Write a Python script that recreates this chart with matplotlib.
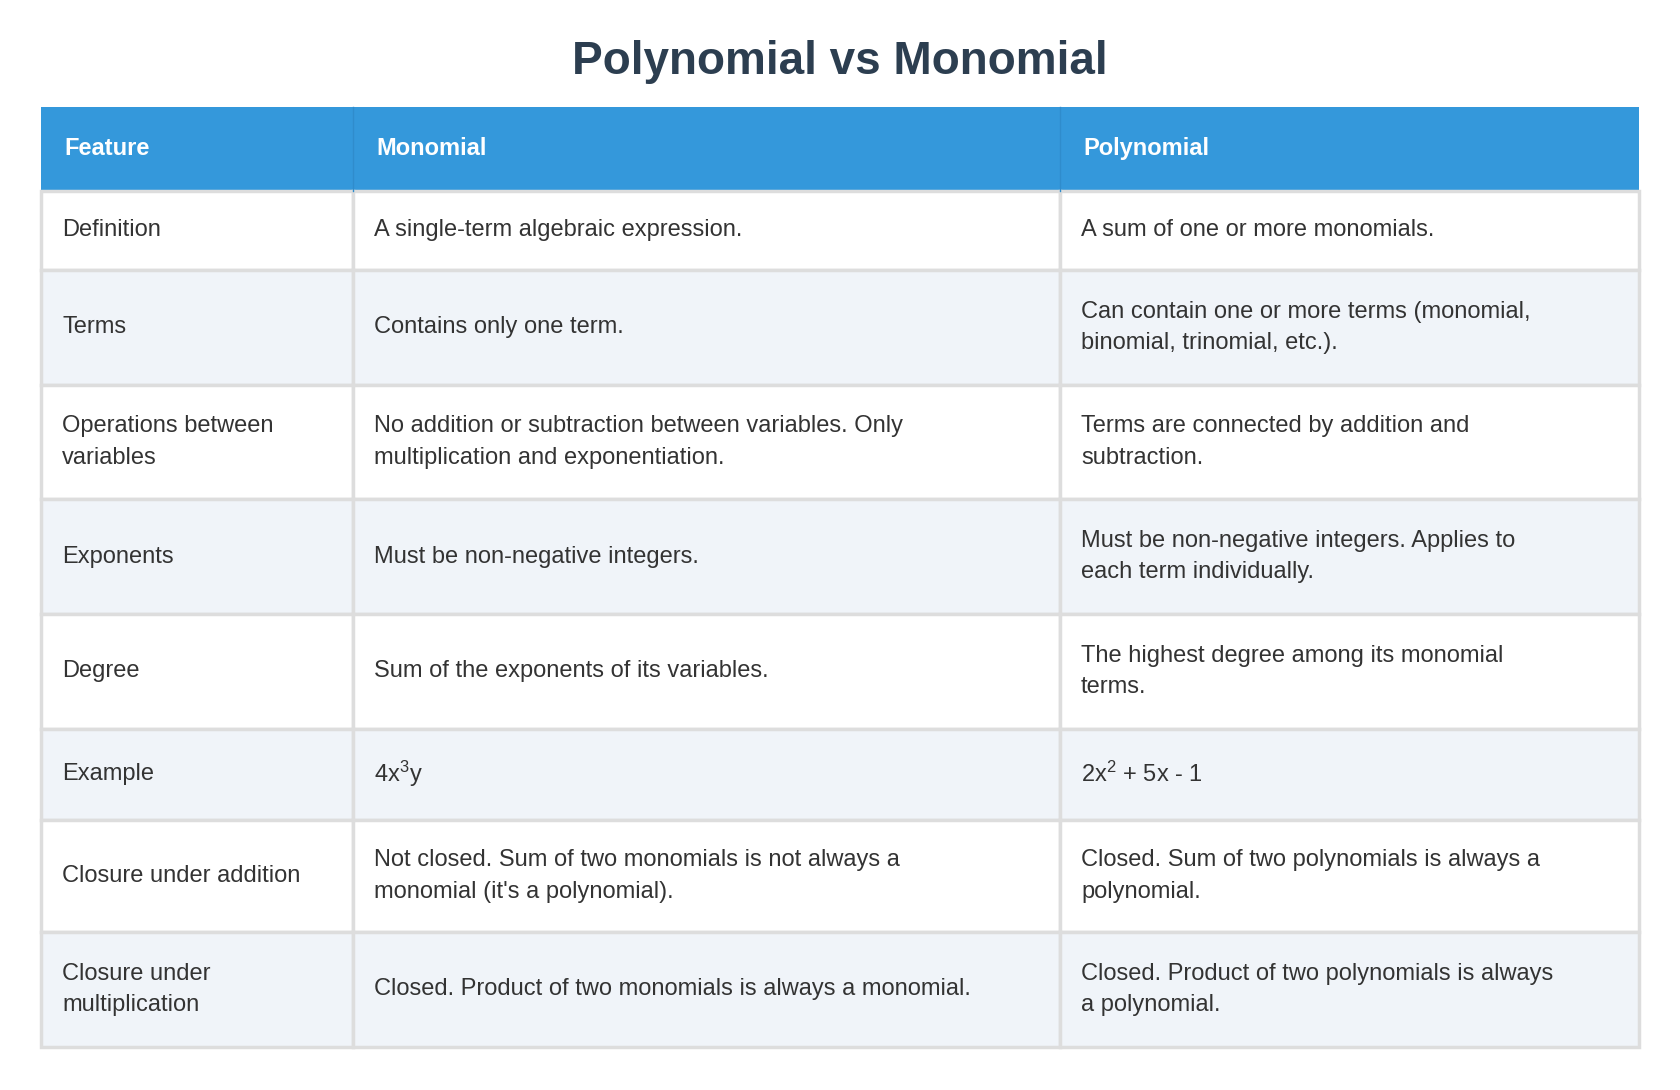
import matplotlib.pyplot as plt
from matplotlib.patches import Rectangle

plt.rcParams['font.family'] = ['Liberation Sans', 'DejaVu Sans']
plt.rcParams['mathtext.default'] = 'regular'

title = "Polynomial vs Monomial"
headers = ["Feature", "Monomial", "Polynomial"]
features = ["Definition", "Terms", "Operations between\nvariables", "Exponents",
            "Degree", "Example", "Closure under addition", "Closure under\nmultiplication"]
monomial = ["A single-term algebraic expression.",
            "Contains only one term.",
            "No addition or subtraction between variables. Only\nmultiplication and exponentiation.",
            "Must be non-negative integers.",
            "Sum of the exponents of its variables.",
            "4x$^{3}$y",
            "Not closed. Sum of two monomials is not always a\nmonomial (it's a polynomial).",
            "Closed. Product of two monomials is always a monomial."]
polynomial = ["A sum of one or more monomials.",
              "Can contain one or more terms (monomial,\nbinomial, trinomial, etc.).",
              "Terms are connected by addition and\nsubtraction.",
              "Must be non-negative integers. Applies to\neach term individually.",
              "The highest degree among its monomial\nterms.",
              "2x$^{2}$ + 5x - 1",
              "Closed. Sum of two polynomials is always a\npolynomial.",
              "Closed. Product of two polynomials is always\na polynomial."]

# layout in pixels of the 1680x1090 image
W, H = 1680, 1090
s = 1680 / 1568
col_x = [38 * s, 329 * s, 989 * s, 1530 * s]
row_y = [v * s for v in [100, 178, 252, 359, 466, 573, 680, 765, 870, 977]]

fig = plt.figure(figsize=(16.8, 10.9), dpi=100)
ax = fig.add_axes([0, 0, 1, 1])
ax.set_xlim(0, W)
ax.set_ylim(H, 0)
ax.axis('off')

ax.text(W / 2, 58 * s, title, ha='center', va='center', fontsize=33,
        fontweight='bold', color='#2c3e50')

# header
ax.add_patch(Rectangle((col_x[0], row_y[0]), col_x[3] - col_x[0], row_y[1] - row_y[0],
                       facecolor='#3498db', edgecolor='none'))
for j, h in enumerate(headers):
    ax.text(col_x[j] + 22 * s, (row_y[0] + row_y[1]) / 2, h, ha='left', va='center',
            fontsize=17, fontweight='bold', color='white')
for x in col_x[1:3]:
    ax.plot([x, x], [row_y[0], row_y[1]], color='#2f8ccc', lw=1)

for i, row in enumerate(zip(features, monomial, polynomial)):
    y0, y1 = row_y[i + 1], row_y[i + 2]
    fc = 'white' if i % 2 == 0 else '#f0f4f9'
    for j in range(3):
        ax.add_patch(Rectangle((col_x[j], y0), col_x[j + 1] - col_x[j], y1 - y0,
                               facecolor=fc, edgecolor='#dddddd', lw=2.5))
        ax.text(col_x[j] + 20 * s, (y0 + y1) / 2, row[j], ha='left', va='center',
                fontsize=17, color='#333333', linespacing=1.55)

fig.savefig('out.png', dpi=100, facecolor='white')
